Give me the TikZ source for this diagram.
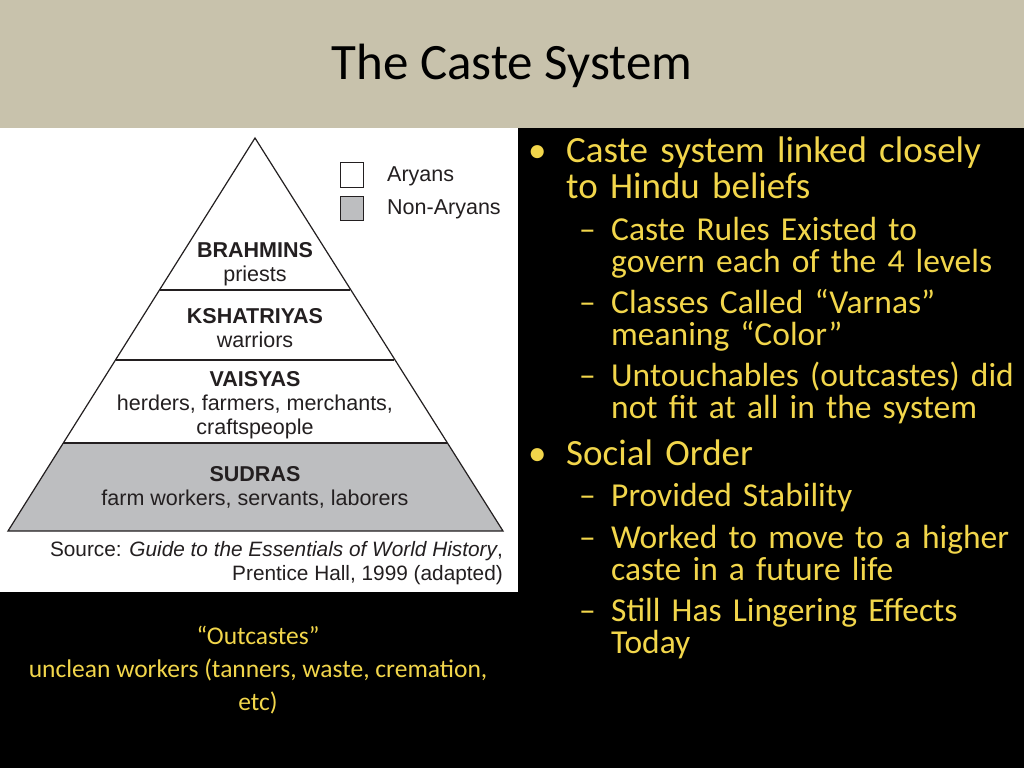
\documentclass[tikz,border=0pt]{standalone}
\usepackage{fontspec}
\setmainfont{Carlito}
\newfontfamily\arial{Liberation Sans}
\definecolor{band}{HTML}{C8C2AC}
\definecolor{ylw}{HTML}{F2D64B}
\definecolor{gry}{HTML}{BDBEC0}
\definecolor{ink}{HTML}{231F20}
\begin{document}
\begin{tikzpicture}[x=1pt,y=-1pt,
  lbl/.style={font=\arial\fontsize{21.5}{24}\selectfont,text=ink,align=center,inner sep=0},
  bul/.style={anchor=base west,inner sep=0,text=ylw,align=left},
  lvl1/.style={bul,font=\fontsize{37}{36}\selectfont,text width=600},
  lvl2/.style={bul,font=\fontsize{33.5}{32}\selectfont,text width=600}]
\useasboundingbox (0,0) rectangle (1024,768);
\fill[black] (0,0) rectangle (1024,768);
\fill[band] (0,0) rectangle (1024,128);
\node[font=\fontsize{51}{56}\selectfont,text=black] (title) at (512,66) {The Caste System};
\fill[white] (0,128) rectangle (518,592);
\coordinate (A) at (255,138);
\coordinate (BL) at (8,531);
\coordinate (BR) at (503,531);
\fill[gry] (63,443) -- (447,443) -- (BR) -- (BL) -- cycle;
\draw[ink,line width=1.2] (A) -- (BR) -- (BL) -- cycle;
\draw[ink,line width=1.2] (160,290) -- (350,290);
\draw[ink,line width=1.2] (116,360) -- (394,360);
\draw[ink,line width=1.2] (63,443) -- (447,443);
\draw[ink,line width=1] (340,162) rectangle (363,187);
\draw[ink,line width=1,fill=gry] (340,196) rectangle (363,220);
\node[lbl,anchor=west] (ar) at (387,176) {Aryans};
\node[lbl,anchor=west] (nar) at (387,209) {Non-Aryans};
\node[lbl] (b) at (255,264) {\textbf{BRAHMINS}\\priests};
\node[lbl] (k) at (255,328) {\textbf{KSHATRIYAS}\\warriors};
\node[lbl] (v) at (255,405) {\textbf{VAISYAS}\\herders, farmers, merchants,\\craftspeople};
\node[lbl] (s) at (255,487) {\textbf{SUDRAS}\\farm workers, servants, laborers};
\node[lbl,font=\arial\fontsize{20.8}{24}\selectfont,align=right,anchor=north east] (src) at (503,541) {Source: \textit{Guide to the Essentials of World History},\\Prentice Hall, 1999 (adapted)};
\node[text=ylw,font=\fontsize{25.5}{33}\selectfont,align=center] (out) at (258,670) {“Outcastes”\\unclean workers (tanners, waste, cremation,\\etc)};
\node[lvl1] at (528,162) {•};
\node[lvl1] (t1) at (566,162) {Caste system linked closely\\to Hindu beliefs};
\foreach \y/\n/\t in {240/t2/{Caste Rules Existed to\\govern each of the 4 levels},
  313/t3/{Classes Called “Varnas”\\meaning “Color”},
  386/t4/{Untouchables (outcastes) did\\not fit at all in the system},
  506/t6/{Provided Stability},
  548/t7/{Worked to move to a higher\\caste in a future life},
  621/t8/{Still Has Lingering Effects\\Today}}{
  \node[lvl2] at (579,\y) {–};
  \node[lvl2] (\n) at (611,\y) {\t};
}
\node[lvl1] at (528,465) {•};
\node[lvl1] (t5) at (566,465) {Social Order};
\end{tikzpicture}
\end{document}
